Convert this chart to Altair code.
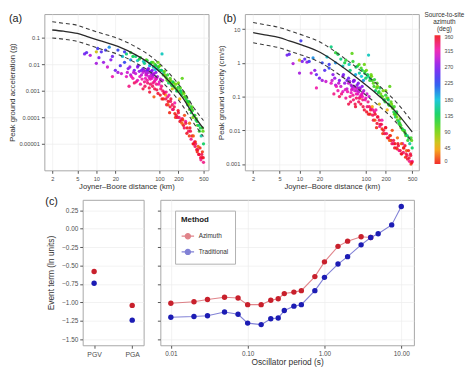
import altair as alt
import pandas as pd

FONT = "Liberation Sans"

# ---------------- panels (a) and (b): recordings ----------------
dist_km = [
    6.5, 7, 8, 10, 10.5, 11, 12, 13, 14, 15,
    16, 17, 18, 10, 18, 20, 22, 24, 25, 26,
    28, 30, 30, 32, 33, 35, 35, 38, 38, 40,
    40, 42, 45, 45, 48, 50, 50, 52, 55, 55,
    58, 60, 60, 62, 65, 65, 68, 70, 70, 72,
    75, 75, 78, 80, 80, 82, 85, 85, 88, 90,
    92, 95, 95, 100, 100, 105, 110, 110, 115, 120,
    125, 130, 130, 135, 140, 145, 150, 150, 160, 165,
    170, 175, 180, 190, 200, 200, 210, 220, 220, 230,
    240, 250, 250, 260, 270, 280, 290, 300, 300, 320,
    330, 340, 350, 360, 380, 390, 400, 410, 420, 430,
    450, 460, 480, 480, 500, 500, 45, 55, 62, 66,
    70, 74, 78, 83, 86, 90, 96, 102, 108, 112,
    118, 125, 138, 142, 155, 160, 168, 185, 195, 205,
    215, 230, 245, 265, 275, 285, 310, 315, 335, 345,
    365, 375, 395, 420, 440, 470, 490, 35, 28, 22,
    52, 58, 63, 67, 72, 76, 81, 84, 89, 93,
    98, 104, 106, 113, 117, 122, 128, 133, 146, 152,
    158, 172, 178, 188, 198, 208, 225, 235, 255, 262,
    278, 295, 305, 325, 355, 370, 385, 405, 445, 475,
    31, 34, 36, 39, 43, 46, 49, 53, 57, 59,
    61, 64, 67, 69, 73, 77, 79, 82, 87, 91,
    42, 48, 56, 64, 71, 79, 88, 97, 108, 120,
    135, 148, 163, 182, 200, 218, 240, 268, 292, 330,
    103, 116, 127, 137, 148, 162, 176, 192, 212, 228,
    248, 272, 298, 318, 342, 368, 398, 425, 455, 495,
]
azimuth_deg = [
    265, 255, 290, 60, 240, 270, 250, 280, 240, 300,
    200, 275, 260, 285, 320, 265, 285, 250, 300, 175,
    230, 310, 150, 275, 330, 290, 200, 320, 135, 270,
    340, 300, 170, 310, 280, 120, 325, 295, 260, 345,
    150, 315, 290, 100, 335, 270, 305, 190, 350, 320,
    285, 130, 340, 300, 160, 20, 315, 110, 275, 330,
    200, 350, 95, 310, 140, 335, 170, 355, 120, 320,
    40, 100, 345, 330, 150, 5, 85, 340, 60, 355,
    130, 320, 10, 110, 90, 345, 45, 140, 330, 100,
    355, 120, 15, 320, 80, 150, 340, 110, 25, 130,
    350, 90, 5, 315, 140, 355, 100, 20, 340, 120,
    350, 160, 10, 110, 330, 140, 280, 300, 285, 260,
    310, 275, 295, 325, 180, 300, 150, 90, 330, 300,
    350, 110, 355, 320, 140, 340, 95, 350, 120, 335,
    105, 340, 90, 130, 0, 100, 345, 150, 120, 20,
    100, 335, 130, 150, 5, 345, 100, 120, 240, 230,
    270, 330, 300, 290, 340, 310, 280, 345, 315, 290,
    320, 300, 130, 340, 160, 90, 330, 110, 100, 350,
    120, 345, 100, 140, 355, 95, 120, 10, 100, 345,
    120, 90, 355, 110, 130, 5, 110, 345, 130, 350,
    300, 280, 315, 295, 330, 265, 310, 320, 285, 340,
    305, 325, 280, 345, 300, 270, 330, 290, 310, 345,
    150, 130, 170, 120, 140, 100, 130, 110, 150, 95,
    120, 105, 130, 90, 120, 140, 100, 110, 130, 100,
    355, 5, 340, 15, 350, 330, 5, 345, 355, 20,
    340, 355, 10, 330, 355, 340, 5, 350, 330, 355,
]
pga_g = [
    0.025, 0.028, 0.022, 0.030, 0.040, 0.018, 0.030, 0.012, 0.035, 0.008,
    0.045, 0.015, 0.020, 0.011, 0.0035, 0.006, 0.005, 0.009, 0.0045, 0.020,
    0.012, 0.0035, 0.025, 0.007, 0.0015, 0.004, 0.015, 0.003, 0.020, 0.006,
    0.002, 0.0045, 0.014, 0.0025, 0.0055, 0.018, 0.0018, 0.004, 0.007, 0.0012,
    0.011, 0.003, 0.0055, 0.015, 0.002, 0.006, 0.0035, 0.009, 0.0009, 0.0028,
    0.0045, 0.012, 0.0015, 0.004, 0.008, 0.0006, 0.0025, 0.010, 0.005, 0.0018,
    0.007, 0.0008, 0.012, 0.0022, 0.006, 0.0012, 0.025, 0.0005, 0.004, 0.0009,
    0.0007, 0.003, 0.0003, 0.0006, 0.002, 0.00015, 0.0025, 0.0004, 0.0012, 0.0002,
    0.0015, 0.00035, 0.0001, 0.0012, 0.002, 0.00015, 0.0005, 0.0008, 0.00008, 0.003,
    0.00005, 0.0006, 0.00012, 0.00007, 0.0004, 0.0003, 0.00003, 0.0002, 0.00006, 0.00015,
    0.00002, 0.0001, 0.00001, 0.000012, 0.00008, 0.000006, 0.00005, 0.000008, 0.000004, 0.00003,
    0.000003, 0.00002, 0.000005, 0.00004, 0.000002, 0.00001, 0.008, 0.005, 0.0045, 0.0065,
    0.003, 0.0055, 0.0035, 0.0022, 0.0065, 0.003, 0.008, 0.009, 0.0015, 0.0025,
    0.0008, 0.0035, 0.0004, 0.0007, 0.0018, 0.0003, 0.002, 0.00012, 0.001, 0.0001,
    0.0013, 0.00009, 0.0008, 0.0005, 0.00004, 0.00035, 0.00003, 0.00025, 0.00018, 0.00002,
    0.00012, 0.00001, 0.00007, 0.00005, 0.000007, 0.000004, 0.00003, 0.028, 0.030, 0.035,
    0.006, 0.0022, 0.004, 0.005, 0.0018, 0.003, 0.0042, 0.0012, 0.0028, 0.0035,
    0.0018, 0.0028, 0.006, 0.001, 0.005, 0.004, 0.0009, 0.0025, 0.0022, 0.0005,
    0.0016, 0.00025, 0.0013, 0.001, 0.00018, 0.001, 0.0007, 0.00008, 0.0006, 0.00006,
    0.0004, 0.0003, 0.00004, 0.0002, 0.00012, 0.000012, 0.00009, 0.000006, 0.00004, 0.000003,
    0.005, 0.008, 0.0035, 0.005, 0.0022, 0.009, 0.0035, 0.0028, 0.006, 0.0015,
    0.004, 0.0025, 0.007, 0.0013, 0.0038, 0.006, 0.002, 0.0045, 0.0032, 0.0011,
    0.020, 0.016, 0.013, 0.014, 0.011, 0.012, 0.009, 0.008, 0.006, 0.0055,
    0.004, 0.003, 0.0022, 0.0018, 0.0014, 0.001, 0.0009, 0.0006, 0.0004, 0.00025,
    0.0007, 0.0005, 0.0005, 0.0003, 0.00025, 0.0002, 0.00014, 0.0001, 0.00007, 0.00006,
    0.00004, 0.000025, 0.00002, 0.000015, 0.00001, 0.000008, 0.000005, 0.000004, 0.0000025, 0.000003,
]
pgv_cms = [
    1.7, 1.8, 0.95, 1.2, 4.5, 1.1, 1.3, 1.05, 1.1, 0.5,
    1.4, 0.6, 0.45, 0.5, 0.18, 0.35, 0.3, 0.6, 0.28, 1.5,
    0.7, 0.25, 3.0, 0.45, 0.12, 0.22, 1.0, 0.15, 1.8, 0.3,
    0.1, 0.2, 0.8, 0.14, 0.25, 1.2, 0.09, 0.17, 0.35, 0.06,
    0.6, 0.13, 0.22, 1.9, 0.08, 0.28, 0.15, 0.45, 0.05, 0.12,
    0.18, 0.8, 0.07, 0.16, 0.5, 0.09, 0.11, 0.7, 0.2, 0.08,
    0.3, 0.04, 0.9, 0.09, 0.35, 0.05, 1.7, 0.03, 0.3, 0.045,
    0.05, 0.25, 0.02, 0.035, 0.15, 0.012, 0.2, 0.025, 0.06, 0.015,
    0.1, 0.02, 0.008, 0.08, 0.15, 0.012, 0.04, 0.06, 0.006, 0.2,
    0.005, 0.05, 0.01, 0.004, 0.03, 0.025, 0.003, 0.02, 0.006, 0.015,
    0.0025, 0.012, 0.002, 0.004, 0.01, 0.0035, 0.007, 0.0025, 0.0018, 0.005,
    0.0015, 0.004, 0.001, 0.006, 0.0012, 0.003, 0.4, 0.25, 0.2, 0.3,
    0.18, 0.22, 0.14, 0.1, 0.4, 0.13, 0.5, 0.6, 0.07, 0.1,
    0.04, 0.3, 0.03, 0.04, 0.13, 0.02, 0.12, 0.01, 0.07, 0.008,
    0.09, 0.007, 0.06, 0.035, 0.004, 0.03, 0.0035, 0.018, 0.014, 0.004,
    0.01, 0.003, 0.008, 0.007, 0.0025, 0.002, 0.005, 2.0, 0.9, 1.0,
    0.3, 0.1, 0.17, 0.2, 0.09, 0.12, 0.18, 0.06, 0.1, 0.15,
    0.08, 0.12, 0.45, 0.05, 0.35, 0.4, 0.04, 0.2, 0.18, 0.025,
    0.14, 0.015, 0.1, 0.08, 0.012, 0.09, 0.055, 0.007, 0.045, 0.005,
    0.03, 0.025, 0.004, 0.016, 0.011, 0.003, 0.009, 0.002, 0.006, 0.0018,
    0.3, 0.35, 0.2, 0.25, 0.12, 0.45, 0.16, 0.14, 0.28, 0.07,
    0.16, 0.11, 0.3, 0.06, 0.15, 0.25, 0.09, 0.17, 0.12, 0.05,
    1.3, 1.0, 0.9, 1.1, 0.75, 0.9, 0.6, 0.55, 0.4, 0.45,
    0.32, 0.25, 0.18, 0.15, 0.11, 0.08, 0.07, 0.05, 0.035, 0.022,
    0.035, 0.03, 0.028, 0.02, 0.016, 0.013, 0.011, 0.008, 0.006, 0.005,
    0.004, 0.003, 0.0028, 0.0025, 0.002, 0.0022, 0.0016, 0.0014, 0.0012, 0.0011,
]

# median prediction and +/- one standard deviation curves
curve_a_dist = [2, 3, 5, 7, 11, 22, 43, 84, 147, 230, 361, 500]
curve_a_median = [0.20, 0.18, 0.148, 0.115, 0.081, 0.048, 0.0224, 0.0078, 0.00214, 0.00058, 0.000107, 0.000038]
curve_a_upper = [0.41, 0.36, 0.30, 0.23, 0.16, 0.096, 0.045, 0.0156, 0.0043, 0.00116, 0.00021, 0.000076]
curve_a_lower = [0.10, 0.09, 0.074, 0.058, 0.040, 0.024, 0.0112, 0.0039, 0.00107, 0.00029, 0.000054, 0.000019]

curve_b_dist = [2, 3, 5, 7, 11, 21, 43, 79, 152, 265, 500]
curve_b_median = [7.9, 6.8, 5.6, 4.5, 3.35, 2.0, 0.79, 0.32, 0.112, 0.041, 0.0089]
curve_b_upper = [15.8, 13.6, 11.2, 9.0, 6.7, 4.0, 1.58, 0.64, 0.224, 0.082, 0.018]
curve_b_lower = [3.95, 3.4, 2.8, 2.25, 1.68, 1.0, 0.40, 0.16, 0.056, 0.0205, 0.0045]

dist_ticks = [2, 5, 10, 20, 100, 200, 500]
pga_ticks = [0.1, 0.01, 0.001, 0.0001, 0.00001]
pgv_ticks = [10, 1, 0.1, 0.01, 0.001]

az_stops = [0, 45, 90, 135, 180, 225, 270, 315, 360]
az_colors = ["#f01010", "#f5b000", "#70d400", "#00d048", "#00c0d8",
             "#1a40f0", "#7a10f0", "#f010b8", "#f01010"]

# ---------------- panel (c): event terms ----------------
im_labels = ["PGV", "PGA"]
im_azimuth = [-0.58, -1.04]
im_traditional = [-0.74, -1.24]

periods_azimuth = [0.01, 0.02, 0.03, 0.05, 0.075, 0.1, 0.15, 0.2, 0.25, 0.3,
                   0.4, 0.5, 0.75, 1.0, 1.5, 2, 3, 4]
terms_azimuth = [-1.01, -0.99, -0.96, -0.93, -0.94, -1.03, -1.03, -0.97, -0.95, -0.88,
                 -0.86, -0.84, -0.65, -0.45, -0.24, -0.17, -0.11, -0.12]
periods_traditional = [0.01, 0.02, 0.03, 0.05, 0.075, 0.1, 0.15, 0.2, 0.25, 0.3,
                       0.4, 0.5, 0.75, 1.0, 1.5, 2, 3, 4, 5, 7.5, 10]
terms_traditional = [-1.20, -1.19, -1.18, -1.13, -1.16, -1.28, -1.30, -1.22, -1.21, -1.11,
                     -1.05, -1.03, -0.84, -0.66, -0.48, -0.38, -0.22, -0.12, -0.07, 0.05, 0.30]
term_ticks = [-1.5, -1.25, -1.0, -0.75, -0.5, -0.25, 0.0, 0.25]
period_ticks = [0.01, 0.1, 1, 10]
method_names = ["Azimuth", "Traditional"]
method_colors = ["#c8202c", "#1c1cb4"]

# ---------------- tables ----------------
scatter_df = pd.DataFrame({"dist": dist_km, "az": azimuth_deg, "pga": pga_g, "pgv": pgv_cms})
med_a_df = pd.DataFrame({"dist": curve_a_dist, "pga": curve_a_median})
band_a_df = pd.concat([
    pd.DataFrame({"dist": curve_a_dist, "pga": curve_a_upper, "kind": "upper"}),
    pd.DataFrame({"dist": curve_a_dist, "pga": curve_a_lower, "kind": "lower"}),
])
med_b_df = pd.DataFrame({"dist": curve_b_dist, "pgv": curve_b_median})
band_b_df = pd.concat([
    pd.DataFrame({"dist": curve_b_dist, "pgv": curve_b_upper, "kind": "upper"}),
    pd.DataFrame({"dist": curve_b_dist, "pgv": curve_b_lower, "kind": "lower"}),
])
im_df = pd.concat([
    pd.DataFrame({"measure": im_labels, "term": im_azimuth, "method": "Azimuth"}),
    pd.DataFrame({"measure": im_labels, "term": im_traditional, "method": "Traditional"}),
])
period_df = pd.concat([
    pd.DataFrame({"period": periods_azimuth, "term": terms_azimuth, "method": "Azimuth"}),
    pd.DataFrame({"period": periods_traditional, "term": terms_traditional, "method": "Traditional"}),
])

FRAME = alt.ViewBackground(stroke="#a6a6a6", strokeWidth=1)


def ax(**kw):
    base = dict(domain=False, tickColor="#555555", tickSize=3, labelColor="#4d4d4d",
                titleColor="#333333", labelFontSize=5.8, titleFontSize=7.8,
                titleFontWeight="normal", gridColor="#ececec", gridWidth=0.7,
                labelPadding=2, labelFont=FONT, titleFont=FONT)
    base.update(kw)
    return alt.Axis(**base)


def label(text, dx, dy):
    return alt.Chart(pd.DataFrame({"lab": [text]})).mark_text(
        align="left", baseline="top", fontSize=11, font=FONT, color="#222222"
    ).encode(text="lab:N", x=alt.value(dx), y=alt.value(dy))


TOP_H = 159
BOT_H = 148

az_scale = alt.Scale(domain=az_stops, range=az_colors, interpolate="rgb")
x_dist_a = alt.X("dist:Q", scale=alt.Scale(type="log", domain=[1.5, 600], nice=False),
                 axis=ax(values=dist_ticks, format="~g", title="Joyner–Boore distance (km)", titlePadding=2))
x_dist_b = alt.X("dist:Q", scale=alt.Scale(type="log", domain=[1.5, 630], nice=False),
                 axis=ax(values=dist_ticks, format="~g", title="Joyner–Boore distance (km)", titlePadding=2))
y_pga = alt.Y("pga:Q", scale=alt.Scale(type="log", domain=[1e-6, 0.8], nice=False),
              axis=ax(values=pga_ticks, format="~g", title="Peak ground acceleration (g)", titleX=-28))
y_pgv = alt.Y("pgv:Q", scale=alt.Scale(type="log", domain=[0.00065, 28], nice=False),
              axis=ax(values=pgv_ticks, format="~g", title="Peak ground velocity (cm/s)", titleX=-20))

panel_a = alt.layer(
    alt.Chart(scatter_df).mark_circle(size=11, opacity=0.88).encode(
        x=x_dist_a, y=y_pga, color=alt.Color("az:Q", scale=az_scale, legend=None)),
    alt.Chart(band_a_df).mark_line(color="#3a3a3a", strokeWidth=1.1, strokeDash=[4, 3],
                                   interpolate="monotone").encode(x=x_dist_a, y=y_pga, detail="kind:N"),
    alt.Chart(med_a_df).mark_line(color="#2a2a2a", strokeWidth=1.3,
                                  interpolate="monotone").encode(x=x_dist_a, y=y_pga),
    label("(a)", -36, -1),
).properties(width=167, height=TOP_H, view=FRAME)

az_legend = alt.Legend(
    orient="none", legendX=183, legendY=-2,
    title=["Source-to-site", "azimuth", "(deg)"], titleAlign="center", titleAnchor="middle",
    titleFontSize=6.5, titleLineHeight=7, titleFontWeight="normal", titleColor="#333333",
    titleFont=FONT, titlePadding=3, values=az_stops, labelFontSize=5.5, labelColor="#4d4d4d",
    labelFont=FONT, labelOffset=4, gradientLength=131, gradientThickness=6,
    gradientStrokeWidth=0, direction="vertical", padding=0, labelOverlap=False)

panel_b = alt.layer(
    alt.Chart(scatter_df).mark_circle(size=11, opacity=0.88).encode(
        x=x_dist_b, y=y_pgv, color=alt.Color("az:Q", scale=az_scale, legend=az_legend)),
    alt.Chart(band_b_df).mark_line(color="#3a3a3a", strokeWidth=1.1, strokeDash=[4, 3],
                                   interpolate="monotone").encode(x=x_dist_b, y=y_pgv, detail="kind:N"),
    alt.Chart(med_b_df).mark_line(color="#2a2a2a", strokeWidth=1.3,
                                  interpolate="monotone").encode(x=x_dist_b, y=y_pgv),
    label("(b)", -22, -1),
).properties(width=177, height=TOP_H, view=FRAME)

term_scale = alt.Scale(domain=[-1.58, 0.39], nice=False, zero=False)
method_scale = alt.Scale(domain=method_names, range=method_colors)
y_term_left = alt.Y("term:Q", scale=term_scale,
                    axis=ax(values=term_ticks, format=".2f", title="Event term (ln units)",
                            titleX=-28, labelFontSize=6.5, titleFontSize=8.5))
y_term_right = alt.Y("term:Q", scale=term_scale,
                     axis=ax(values=term_ticks, labels=False, title=None))
x_measure = alt.X("measure:N", sort=im_labels, scale=alt.Scale(type="point", padding=0.3),
                  axis=ax(title=None, labelAngle=0, labelFontSize=7))
x_period = alt.X("period:Q", scale=alt.Scale(type="log", domain=[0.0073, 14.6], nice=False),
                 axis=ax(values=period_ticks, format=".2f", title="Oscillator period (s)",
                         labelFontSize=6.5, titleFontSize=8.5, titlePadding=1))

method_legend = alt.Legend(
    orient="none", legendX=15, legendY=11, title="Method", titleFontSize=8,
    titleFontWeight="bold", titleColor="#222222", titleFont=FONT, labelFontSize=6.5,
    labelColor="#333333", labelFont=FONT, fillColor="white", strokeColor="#b0b0b0",
    padding=6, rowPadding=3,
    symbolType="M-1,0L1,0M0.42,0A0.42,0.42,0,1,1,-0.42,0A0.42,0.42,0,1,1,0.42,0Z",
    symbolSize=160, symbolStrokeWidth=1.2)

panel_cl = alt.layer(
    alt.Chart(im_df).mark_circle(size=30, opacity=1).encode(
        x=x_measure, y=y_term_left,
        color=alt.Color("method:N", scale=method_scale, legend=None)),
    label("(c)", -38, -4),
).properties(width=62, height=BOT_H, view=FRAME)

panel_cr = alt.layer(
    alt.Chart(period_df).mark_line(strokeWidth=1.1, opacity=0.55).encode(
        x=x_period, y=y_term_right,
        color=alt.Color("method:N", scale=method_scale, legend=method_legend)),
    alt.Chart(period_df).mark_circle(size=30, opacity=1).encode(
        x=x_period, y=y_term_right,
        color=alt.Color("method:N", scale=method_scale, legend=method_legend)),
).properties(width=258, height=BOT_H, view=FRAME)


def spacer(w, h):
    return alt.Chart(pd.DataFrame({"v": [0]})).mark_point(opacity=0).encode(
        x=alt.X("v:Q", axis=None), y=alt.Y("v:Q", axis=None)
    ).properties(width=w, height=h)


def indep(c):
    return c.resolve_scale(x="independent", y="independent", color="independent"
                           ).resolve_legend(color="independent")


row1 = indep(alt.hconcat(panel_a, spacer(3, TOP_H), panel_b, spacing=17, bounds="flush"))
row2 = indep(alt.hconcat(spacer(22, BOT_H), panel_cl, panel_cr, spacing=17, bounds="flush"))

chart = indep(alt.vconcat(row1, row2, spacing=3)).properties(
    padding=0
).configure(
    font=FONT
).configure_view(
    stroke="transparent"
)

chart.save("out.html", embed_options={"renderer": "svg", "actions": False})
